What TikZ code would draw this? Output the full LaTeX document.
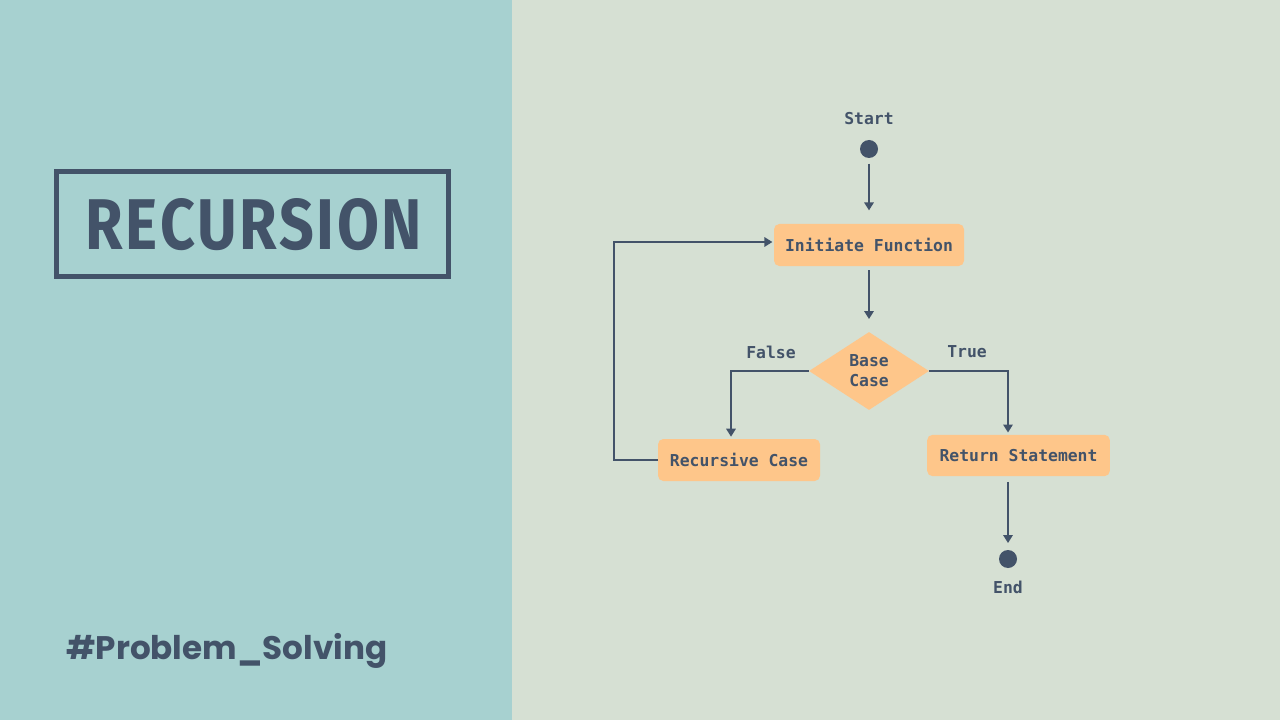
\documentclass[tikz,border=0pt]{standalone}
\usepackage{fontspec}
\usetikzlibrary{shapes.geometric,arrows.meta}
\newfontfamily\monof{DejaVu Sans Mono}
\newfontfamily\titlef{Fira Sans}
\newfontfamily\tagf{Poppins}
\definecolor{leftbg}{HTML}{A7D1D0}
\definecolor{rightbg}{HTML}{D6E0D3}
\definecolor{ink}{HTML}{435369}
\definecolor{boxc}{HTML}{FEC68A}
\tikzset{
  box/.style={fill=boxc, rounded corners=4pt, inner sep=0pt, font=\monof\bfseries\fontsize{12.3}{14}\selectfont, text=ink},
  lbl/.style={font=\monof\bfseries\fontsize{12.3}{14}\selectfont, text=ink, inner sep=0pt},
  dot/.style={circle, fill=ink, minimum size=13.5pt, inner sep=0pt},
  conn/.style={draw=ink, line width=1.5pt, -{Triangle[length=6pt,width=7pt]}},
}
\begin{document}
\begin{tikzpicture}[x=0.75pt,y=-0.75pt]
\useasboundingbox (0,0) rectangle (1280,720);
\fill[leftbg] (0,0) rectangle (512,720);
\fill[rightbg] (512,0) rectangle (1280,720);
% title
\draw[ink, line width=3.75pt] (56.5,171.5) rectangle (448.5,276.5);
\node[text=ink, inner sep=0pt] (title) at (254,225) {\resizebox{336\dimexpr0.75pt\relax}{51\dimexpr0.75pt\relax}{\titlef\bfseries R\kern0.04em E\kern0.04em C\kern0.04em U\kern0.04em R\kern0.04em S\kern0.04em I\kern0.04em O\kern0.04em N}};
\node[text=ink, inner sep=0pt, anchor=west] (tag) at (66,651) {\resizebox{321\dimexpr0.75pt\relax}{!}{\tagf\bfseries\#Problem\_Solving}};
% flowchart
\node[lbl] (startl) at (869,119) {Start};
\node[dot] (start) at (869,149) {};
\node[box, minimum width=142.5pt, minimum height=31.5pt] (init) at (869,245) {Initiate Function};
\node[diamond, fill=boxc, minimum width=90pt, minimum height=58.5pt, inner sep=0pt, aspect=1.54, font=\monof\bfseries\fontsize{12.3}{15}\selectfont, text=ink, align=center] (base) at (869,371) {Base\\Case};
\node[lbl] (falsel) at (771,352) {False};
\node[lbl] (truel) at (967,352) {True};
\node[box, minimum width=121.5pt, minimum height=31.5pt] (rec) at (739,460) {Recursive Case};
\node[box, minimum width=137pt, minimum height=31pt] (ret) at (1018.5,455.5) {Return Statement};
\node[dot] (end) at (1008,559) {};
\node[lbl] (endl) at (1008,587) {End};
\coordinate (c1) at (731,371);
\coordinate (c2) at (1008,371);
\coordinate (c3) at (614,460);
\coordinate (c4) at (614,242);
\draw[conn, shorten <=4pt, shorten >=10pt] (start) -- (init);
\draw[conn, shorten <=3pt, shorten >=9.5pt] (init) -- (base);
\draw[conn, shorten >=1.5pt] (base.west) -- (c1) -- (rec.north -| c1);
\draw[conn, shorten >=1.5pt] (base.east) -- (c2) -- (ret.north -| c2);
\draw[conn, shorten >=1pt] (rec.west) -- (c3) -- (c4) -- (init.west |- c4);
\draw[conn, shorten <=4pt, shorten >=5pt] (ret.south -| end) -- (end);
\end{tikzpicture}
\end{document}
